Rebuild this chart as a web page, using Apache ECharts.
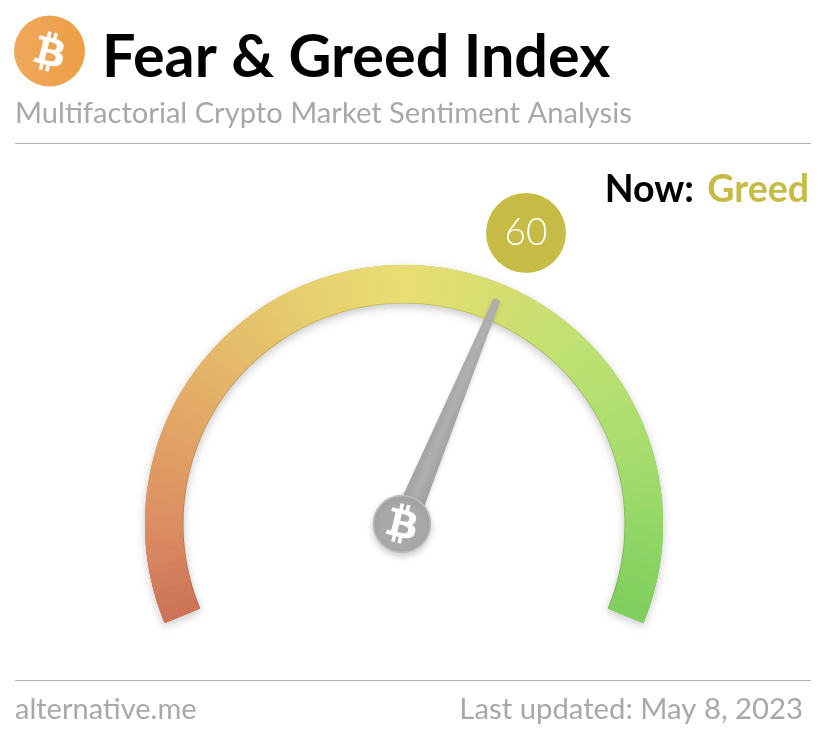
<!DOCTYPE html>
<html><head><meta charset="utf-8">
<style>html,body{margin:0;padding:0;background:#fff}#c{width:824px;height:738px}</style>
<script src="https://cdn.jsdelivr.net/npm/echarts@6/dist/echarts.min.js"></script>
</head><body><div id="c"></div>
<script>
const titleText = 'Fear & Greed Index';
const subtitleText = 'Multifactorial Crypto Market Sentiment Analysis';
const nowLabel = 'Now:';
const classification = 'Greed';
const sourceText = 'alternative.me';
const updatedText = 'Last updated: May 8, 2023';
const indexValue = 60;
const scaleMin = 0;
const scaleMax = 100;
const rampStops = [0, 0.1, 0.2, 0.3, 0.4, 0.5, 0.6, 0.7, 0.82, 0.92, 1];
const rampColors = ['#cc7258','#dc8e62','#e2a466','#e5bb6a','#e6d06f','#e9de74','#d5de70','#bee173','#a8dd6e','#8ed566','#7fce5c'];
const btc = 'm46.1 27.441c0.64-4.258-2.606-6.547-7.039-8.074l1.438-5.768-3.512-0.875-1.4 5.616c-0.923-0.23-1.871-0.447-2.813-0.662l1.41-5.653-3.509-0.875-1.439 5.766c-0.764-0.174-1.514-0.346-2.242-0.527l0.004-0.018-4.842-1.209-0.934 3.75s2.605 0.597 2.55 0.634c1.422 0.355 1.679 1.296 1.636 2.042l-1.638 6.571c0.098 0.025 0.225 0.061 0.365 0.117-0.117-0.029-0.242-0.061-0.371-0.092l-2.296 9.205c-0.174 0.432-0.615 1.08-1.609 0.834 0.035 0.051-2.552-0.637-2.552-0.637l-1.743 4.019 4.569 1.139c0.85 0.213 1.683 0.436 2.503 0.646l-1.453 5.834 3.507 0.875 1.439-5.772c0.958 0.26 1.888 0.5 2.798 0.726l-1.434 5.745 3.511 0.875 1.453-5.823c5.987 1.133 10.489 0.676 12.384-4.739 1.527-4.36-0.076-6.875-3.226-8.515 2.294-0.529 4.022-2.038 4.483-5.155zm-8.022 11.249c-1.085 4.36-8.426 2.003-10.806 1.412l1.928-7.729c2.38 0.594 10.012 1.77 8.878 6.317zm1.086-11.312c-0.99 3.966-7.1 1.951-9.082 1.457l1.748-7.01c1.982 0.494 8.365 1.416 7.334 5.553z';
echarts.graphic.registerShape('btcGlyph', echarts.graphic.extendPath(btc, {}));

function hex(c){return [1,3,5].map(i=>parseInt(c.substr(i,2),16));}
function rampAt(t,k){
  let i=0; while(i<rampStops.length-2 && t>rampStops[i+1]) i++;
  const f=(t-rampStops[i])/(rampStops[i+1]-rampStops[i]);
  const a=hex(rampColors[i]),b=hex(rampColors[i+1]);
  return 'rgb('+a.map((v,j)=>Math.round((v+(b[j]-v)*f)*k)).join(',')+')';
}
function bands(n,shift,k){
  const out=[];
  for(let i=0;i<n;i++){ out.push([Math.min(1,(i+1+shift)/n), rampAt((i+.5+shift)/n,k)]); }
  if(out[out.length-1][0]<1) out.push([1,rampAt(1,k)]);
  return out;
}
const off={axisTick:{show:false},splitLine:{show:false},axisLabel:{show:false}};
const geom={type:'gauge',center:[404,524],radius:259,startAngle:202.5,endAngle:-22.5,min:scaleMin,max:scaleMax,animation:false,silent:true};
const bare={pointer:{show:false},anchor:{show:false},title:{show:false},detail:{show:false},data:[{value:indexValue}]};
const chart=echarts.init(document.getElementById('c'),null,{renderer:'canvas'});
const font='Lato';
function glyph(cx,cy,s,fill,z){
  return {type:'btcGlyph',z:z,silent:true,x:cx-32*s,y:cy-32*s,scaleX:s,scaleY:s,style:{fill}};
}
chart.setOption({
  animation:false,
  backgroundColor:'#fff',
  title:[
    {text:titleText,left:102,top:28,padding:0,textStyle:{fontFamily:font,fontWeight:'bold',fontSize:59.3,color:'#000'}},
    {text:subtitleText,left:15,top:99,padding:0,textStyle:{fontFamily:font,fontWeight:'normal',fontSize:29.15,color:'#a8a8a8'}},
    {text:sourceText,left:15,top:695,padding:0,textStyle:{fontFamily:font,fontWeight:'normal',fontSize:29,color:'#a8a8a8'}},
    {text:updatedText,right:21,top:695,padding:0,textStyle:{fontFamily:font,fontWeight:'normal',fontSize:29.3,color:'#a8a8a8'}},
    {text:nowLabel,right:130,top:171,padding:0,textStyle:{fontFamily:font,fontWeight:'bold',fontSize:37.5,color:'#000'}},
    {text:classification,right:15,top:171,padding:0,textStyle:{fontFamily:font,fontWeight:'bold',fontSize:37.5,color:'#c6bb47'}}
  ],
  graphic:[
    {type:'line',shape:{x1:15,y1:143.5,x2:811,y2:143.5},style:{stroke:'#b4b4b4',lineWidth:1},silent:true},
    {type:'line',shape:{x1:15,y1:680.5,x2:811,y2:680.5},style:{stroke:'#b4b4b4',lineWidth:1},silent:true},
    {type:'circle',silent:true,shape:{cx:49.5,cy:51,r:35.5},style:{fill:new echarts.graphic.LinearGradient(0,0,1,0,[{offset:0,color:'#eea85c'},{offset:1,color:'#ee9f45'}])}},
    glyph(49.5,52,1,'#fff',5),
    glyph(402,524,1,'#fff',100)
  ],
  series:[
    Object.assign({},geom,off,bare,{z:1,
      axisLine:{lineStyle:{width:38.5,color:[[1,'#d8d8a0']],shadowBlur:9,shadowColor:'rgba(0,0,0,.22)',shadowOffsetY:3}}}),
    Object.assign({},geom,off,bare,{z:1,axisLine:{lineStyle:{width:38.5,color:bands(120,0.25,0.86)}}}),
    Object.assign({},geom,off,bare,{z:2,axisLine:{lineStyle:{width:37.5,color:bands(120,0.5,1)}}}),
    Object.assign({},geom,off,{z:3,
      axisLine:{lineStyle:{width:37.5,color:bands(120,0,1)}},
      pointer:{show:true,icon:'path://M36 0L64 0L100 100L0 100Z',length:243,width:25.5,keepAspect:false,offsetCenter:[0,0],
        itemStyle:{color:new echarts.graphic.LinearGradient(0,0,1,0,[{offset:0,color:'#a0a0a0'},{offset:.5,color:'#b0b0b0'},{offset:1,color:'#9e9e9e'}]),shadowBlur:4,shadowColor:'rgba(0,0,0,.15)',shadowOffsetY:2}},
      anchor:{show:true,showAbove:true,size:57,icon:'circle',offsetCenter:[-2,0],itemStyle:{color:'#a9a9a9',borderColor:'#bdbdbd',borderWidth:1.5,shadowBlur:6,shadowColor:'rgba(0,0,0,.18)',shadowOffsetY:3}},
      title:{show:false},
      detail:{show:true,offsetCenter:[122,-291],width:80,height:80,lineHeight:80,padding:0,borderRadius:40,backgroundColor:'#c6bb45',
        color:'#fff',fontFamily:font,fontWeight:300,fontSize:37,valueAnimation:false,formatter:'{value}'},
      data:[{value:indexValue}]})
  ]
});
</script></body></html>
